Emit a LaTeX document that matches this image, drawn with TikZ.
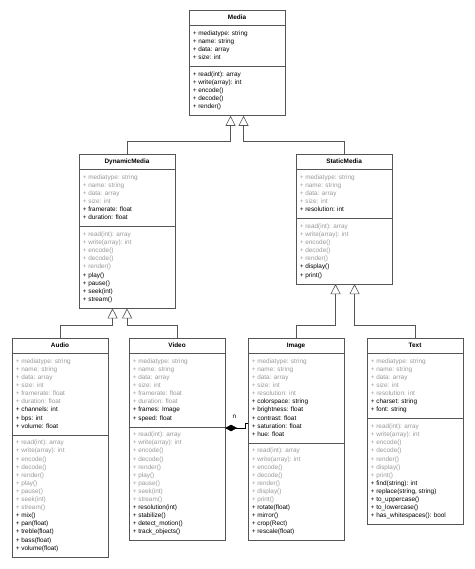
\documentclass[tikz,border=0pt]{standalone}
\usepackage{fontspec}
\setmainfont{Liberation Sans}
\usetikzlibrary{shapes.multipart,arrows.meta}
\definecolor{edge}{HTML}{555555}
\definecolor{inherited}{HTML}{9A9A9A}
\newcommand{\inh}[1]{\textcolor{inherited}{#1}}
\newcommand{\members}[1]{\begin{tabular}{@{}l@{}}#1\end{tabular}}
\newcommand{\clsname}[1]{\rule[-1.5pt]{0pt}{6.5pt}\textbf{#1}}

\tikzset{
  umlclass/.style={draw=edge, line width=0.6pt, fill=white,
    rectangle split, rectangle split parts=3,
    rectangle split part align={center,left,left},
    minimum width=95.5pt, inner xsep=3.5pt, inner ysep=4pt,
    anchor=north west, font=\fontsize{6.4}{8.1}\selectfont},
  inherit/.style={draw=edge, line width=0.6pt,
    -{Triangle[open,length=10pt,width=10pt]}},
  compose/.style={draw=black, line width=0.6pt,
    {Diamond[length=12pt,width=6.5pt]}-},
}

\begin{document}
\begin{tikzpicture}[x=1pt,y=-1pt]
  \fill[white] (0,0) rectangle (474,569);
  \useasboundingbox (0,0) rectangle (474,569);

  % base class
  \node[umlclass] (media) at (189,10) {\clsname{Media}
    \nodepart{two}\members{+ mediatype: string\\+ name: string\\+ data: array\\+ size: int}
    \nodepart{three}\members{+ read(int): array\\+ write(array): int\\+ encode()\\+ decode()\\+ render()}};

  % second level
  \node[umlclass] (dyn) at (79,154) {\clsname{DynamicMedia}
    \nodepart{two}\members{\inh{+ mediatype: string}\\\inh{+ name: string}\\\inh{+ data: array}\\\inh{+ size: int}\\+ framerate: float\\+ duration: float}
    \nodepart{three}\members{\inh{+ read(int): array}\\\inh{+ write(array): int}\\\inh{+ encode()}\\\inh{+ decode()}\\\inh{+ render()}\\+ play()\\+ pause()\\+ seek(int)\\+ stream()}};

  \node[umlclass] (static) at (296,154) {\clsname{StaticMedia}
    \nodepart{two}\members{\inh{+ mediatype: string}\\\inh{+ name: string}\\\inh{+ data: array}\\\inh{+ size: int}\\+ resolution: int}
    \nodepart{three}\members{\inh{+ read(int): array}\\\inh{+ write(array): int}\\\inh{+ encode()}\\\inh{+ decode()}\\\inh{+ render()}\\+ display()\\+ print()}};

  % leaves
  \node[umlclass] (audio) at (12,338) {\clsname{Audio}
    \nodepart{two}\members{\inh{+ mediatype: string}\\\inh{+ name: string}\\\inh{+ data: array}\\\inh{+ size: int}\\\inh{+ framerate: float}\\\inh{+ duration: float}\\+ channels: int\\+ bps: int\\+ volume: float}
    \nodepart{three}\members{\inh{+ read(int): array}\\\inh{+ write(array): int}\\\inh{+ encode()}\\\inh{+ decode()}\\\inh{+ render()}\\\inh{+ play()}\\\inh{+ pause()}\\\inh{+ seek(int)}\\\inh{+ stream()}\\+ mix()\\+ pan(float)\\+ treble(float)\\+ bass(float)\\+ volume(float)}};

  \node[umlclass] (video) at (129,338) {\clsname{Video}
    \nodepart{two}\members{\inh{+ mediatype: string}\\\inh{+ name: string}\\\inh{+ data: array}\\\inh{+ size: int}\\\inh{+ framerate: float}\\\inh{+ duration: float}\\+ frames: Image\\+ speed: float}
    \nodepart{three}\members{\inh{+ read(int): array}\\\inh{+ write(array): int}\\\inh{+ encode()}\\\inh{+ decode()}\\\inh{+ render()}\\\inh{+ play()}\\\inh{+ pause()}\\\inh{+ seek(int)}\\\inh{+ stream()}\\+ resolution(int)\\+ stabilize()\\+ detect\_motion()\\+ track\_objects()}};

  \node[umlclass] (img) at (248,338) {\clsname{Image}
    \nodepart{two}\members{\inh{+ mediatype: string}\\\inh{+ name: string}\\\inh{+ data: array}\\\inh{+ size: int}\\\inh{+ resolution: int}\\+ colorspace: string\\+ brightness: float\\+ contrast: float\\+ saturation: float\\+ hue: float}
    \nodepart{three}\members{\inh{+ read(int): array}\\\inh{+ write(array): int}\\\inh{+ encode()}\\\inh{+ decode()}\\\inh{+ render()}\\\inh{+ display()}\\\inh{+ print()}\\+ rotate(float)\\+ mirror()\\+ crop(Rect)\\+ rescale(float)}};

  \node[umlclass] (txt) at (367,338) {\clsname{Text}
    \nodepart{two}\members{\inh{+ mediatype: string}\\\inh{+ name: string}\\\inh{+ data: array}\\\inh{+ size: int}\\\inh{+ resolution: int}\\+ charset: string\\+ font: string}
    \nodepart{three}\members{\inh{+ read(int): array}\\\inh{+ write(array): int}\\\inh{+ encode()}\\\inh{+ decode()}\\\inh{+ render()}\\\inh{+ display()}\\\inh{+ print()}\\+ find(string): int\\+ replace(string, string)\\+ to\_uppercase()\\+ to\_lowercase()\\+ has\_whitespaces(): bool}};

  % generalisation
  \draw[inherit] (dyn.north) -- ++(0,-13) -| ([xshift=-6.5pt]media.south);
  \draw[inherit] (static.north) -- ++(0,-13) -| ([xshift=6.5pt]media.south);
  \draw[inherit] (audio.north) -- ++(0,-13) -| ([xshift=-14.5pt]dyn.south);
  \draw[inherit] (video.north) -- ++(0,-13) -| (dyn.south);
  \draw[inherit] (img.north) -- ++(0,-13) -| ([xshift=-8.5pt]static.south);
  \draw[inherit] (txt.north) -- ++(0,-13) -| ([xshift=10.5pt]static.south);

  % composition
  \coordinate (bend) at (245.5,0);
  \draw[compose] (video.east |- 0,428) -- node[pos=0.45, above=6pt, font=\fontsize{6.4}{8.1}\selectfont] (mult) {n}
    (bend |- 0,428) |- (img.west |- 0,423);
\end{tikzpicture}
\end{document}
